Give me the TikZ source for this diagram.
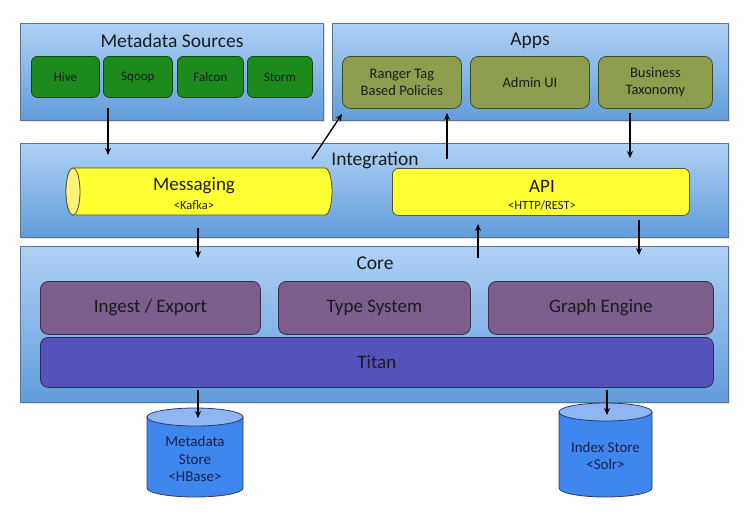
\documentclass[tikz,border=0pt]{standalone}
\usepackage{fontspec}
\setmainfont{Carlito}
\usetikzlibrary{arrows.meta,shadows}
\definecolor{panelTop}{HTML}{AFD1F5}
\definecolor{panelBot}{HTML}{619DDA}
\definecolor{panelLine}{HTML}{5A7590}
\definecolor{greenFill}{HTML}{1C8A1C}
\definecolor{greenLine}{HTML}{0F4A0F}
\definecolor{oliveFill}{HTML}{8C9E4E}
\definecolor{oliveLine}{HTML}{3F4D22}
\definecolor{purpleFill}{HTML}{7B5E8C}
\definecolor{purpleLine}{HTML}{3C2C4C}
\definecolor{titanFill}{HTML}{5553B9}
\definecolor{titanLine}{HTML}{2A2A66}
\definecolor{yellowFill}{HTML}{FFFF33}
\definecolor{yellowEnd}{HTML}{FFF27A}
\definecolor{yellowLine}{HTML}{55552A}
\definecolor{cylFill}{HTML}{3F87EE}
\definecolor{cylTop}{HTML}{8DB6F3}
\definecolor{cylLine}{HTML}{2A3F66}
\definecolor{txt}{HTML}{1C1C1C}
\definecolor{cyltxt}{HTML}{16214A}
\tikzset{
  panel/.style={rectangle, draw=panelLine, line width=0.8pt, top color=panelTop, bottom color=panelBot,
    anchor=north west, inner sep=0pt,
    drop shadow={opacity=0.25, shadow xshift=1.5pt, shadow yshift=-1.5pt}},
  title/.style={text=txt, font=\fontsize{19.5}{21}\selectfont, inner sep=0pt},
  greenbox/.style={rectangle, rounded corners=6pt, draw=greenLine, line width=0.8pt, fill=greenFill,
    anchor=north west, inner sep=0pt, text=txt, font=\fontsize{13}{15}\selectfont},
  olivebox/.style={rectangle, rounded corners=8pt, draw=oliveLine, line width=0.8pt, fill=oliveFill,
    anchor=north west, inner sep=0pt, text=txt, align=center, font=\fontsize{14.5}{17.5}\selectfont},
  purplebox/.style={rectangle, rounded corners=8pt, draw=purpleLine, line width=0.8pt, fill=purpleFill,
    anchor=north west, inner sep=0pt, text=txt, font=\fontsize{19}{21}\selectfont},
  titanbox/.style={rectangle, rounded corners=8pt, draw=titanLine, line width=0.8pt, fill=titanFill,
    anchor=north west, inner sep=0pt, text=txt, font=\fontsize{19}{21}\selectfont},
  apibox/.style={rectangle, rounded corners=6pt, draw=yellowLine, line width=0.8pt, fill=yellowFill,
    anchor=north west, inner sep=0pt},
  maintext/.style={inner sep=0pt, text=txt, font=\fontsize{19}{21}\selectfont},
  subtext/.style={inner sep=0pt, text=txt, font=\fontsize{12.5}{14}\selectfont},
  holder/.style={rectangle, inner sep=0pt, align=center},
  cylbody/.style={draw=cylLine, line width=0.8pt, fill=cylFill},
  cylcap/.style={draw=cylLine, line width=0.8pt, fill=cylTop},
  arr/.style={draw=black, line width=1.3pt, -{Stealth[length=7pt,width=6pt]}},
}
\begin{document}
\begin{tikzpicture}[x=1pt,y=1pt]
\useasboundingbox[fill=white] (0,0) rectangle (750,-515);

% ---------- panels ----------
\node[panel, minimum width=303pt, minimum height=97pt] (src) at (20,-23) {};
\node[panel, minimum width=396pt, minimum height=97pt] (apps) at (332,-23) {};
\node[panel, minimum width=708pt, minimum height=94pt] (integ) at (20,-143) {};
\node[panel, minimum width=708pt, minimum height=156pt] (core) at (20,-246) {};

\node[title] (srcT) at (172,-41) {Metadata Sources};
\node[title] (appsT) at (530,-41) {Apps};
\node[title] (integT) at (375,-160) {Integration};
\node[title] (coreT) at (375,-263) {Core};

% ---------- metadata sources ----------
\node[greenbox, minimum width=68pt, minimum height=41pt] (hive) at (31,-56) {Hive};
\node[greenbox, minimum width=69pt, minimum height=41pt] (sqoop) at (103,-56) {Sqoop};
\node[greenbox, minimum width=66pt, minimum height=41pt] (falcon) at (177,-56) {Falcon};
\node[greenbox, minimum width=65pt, minimum height=41pt] (storm) at (247,-56) {Storm};

% ---------- apps ----------
\node[olivebox, minimum width=119pt, minimum height=52pt] (ranger) at (342,-56) {Ranger Tag\\Based Policies};
\node[olivebox, minimum width=119pt, minimum height=52pt] (admin) at (470,-56) {Admin UI};
\node[olivebox, minimum width=114pt, minimum height=52pt] (biz) at (598,-56) {Business\\Taxonomy};

% ---------- integration ----------
\path[draw=yellowLine, line width=0.8pt, fill=yellowFill]
  (73,-168) -- (325,-168) arc[start angle=90, end angle=-90, x radius=7, y radius=23.5]
  -- (73,-215) arc[start angle=270, end angle=90, x radius=7, y radius=23.5] -- cycle;
\path[draw=yellowLine, line width=0.8pt, fill=yellowEnd] (73,-191.5) ellipse[x radius=7, y radius=23.5];
\node[holder, minimum width=252pt, minimum height=47pt] (msg) at (202.5,-191.5) {};
\node[maintext] (msgT) at (194,-186) {Messaging};
\node[subtext] (msgS) at (194,-205) {<Kafka>};

\node[apibox, minimum width=297pt, minimum height=47pt] (api) at (392,-168) {};
\node[maintext] (apiT) at (542,-186) {API};
\node[subtext] (apiS) at (542,-205) {<HTTP/REST>};

% ---------- core ----------
\node[purplebox, minimum width=220pt, minimum height=53pt] (ingest) at (40,-281) {Ingest / Export};
\node[purplebox, minimum width=192pt, minimum height=53pt] (types) at (278,-281) {Type System};
\node[purplebox, minimum width=225pt, minimum height=53pt] (graph) at (488,-281) {Graph Engine};
\node[titanbox, minimum width=673pt, minimum height=50pt] (titan) at (40,-337) {Titan};

% ---------- stores ----------
\path[cylbody] (147,-417) -- (147,-488) arc[start angle=180, end angle=360, x radius=48, y radius=9]
  -- (243,-417) -- cycle;
\path[cylcap] (195,-417) ellipse[x radius=48, y radius=9];
\node[holder, text=cyltxt, font=\fontsize{15}{17.5}\selectfont, minimum width=90pt, minimum height=70pt] (mstore) at (195,-459)
  {Metadata\\Store\\<HBase>};

\path[cylbody] (559,-412) -- (559,-488) arc[start angle=180, end angle=360, x radius=46.5, y radius=9]
  -- (652,-412) -- cycle;
\path[cylcap] (605.5,-412) ellipse[x radius=46.5, y radius=9];
\node[holder, text=cyltxt, font=\fontsize{15}{17.5}\selectfont, minimum width=88pt, minimum height=70pt] (istore) at (605.5,-456)
  {Index Store\\<Solr>};

% ---------- connector end points ----------
\coordinate (a1s) at (108,-108);  \coordinate (a1e) at (108,-155);
\coordinate (a2s) at (312,-159);  \coordinate (a2e) at (342,-114);
\coordinate (a3s) at (447,-159);  \coordinate (a3e) at (447,-113);
\coordinate (a4s) at (630,-113);  \coordinate (a4e) at (630,-158);
\coordinate (a5s) at (198,-228);  \coordinate (a5e) at (198,-258);
\coordinate (a6s) at (478,-258);  \coordinate (a6e) at (478,-224);
\coordinate (a7s) at (639,-220);  \coordinate (a7e) at (639,-255);
\coordinate (a8s) at (198,-390);  \coordinate (a8e) at (198,-418);
\coordinate (a9s) at (607,-390);  \coordinate (a9e) at (607,-415);

\draw[arr] (a1s) -- (a1e);
\draw[arr] (a2s) -- (a2e);
\draw[arr] (a3s) -- (a3e);
\draw[arr] (a4s) -- (a4e);
\draw[arr] (a5s) -- (a5e);
\draw[arr] (a6s) -- (a6e);
\draw[arr] (a7s) -- (a7e);
\draw[arr] (a8s) -- (a8e);
\draw[arr] (a9s) -- (a9e);
\end{tikzpicture}
\end{document}
